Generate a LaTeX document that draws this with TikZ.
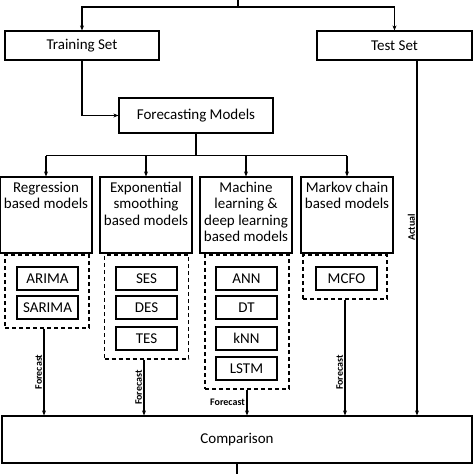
\documentclass[tikz,border=0pt]{standalone}
\usepackage{fontspec}
\setmainfont{Carlito}
\usetikzlibrary{arrows.meta}
\tikzset{>={Stealth[length=5pt,width=4pt]}}
\tikzset{
  box/.style={draw, font=\fontsize{15}{16.5}\selectfont},
  modelbox/.style={box, minimum width=91pt, minimum height=76pt, inner sep=2pt},
  group/.style={draw, dash pattern=on 4pt off 3pt, minimum width=84pt},
  method/.style={box, minimum width=61pt, minimum height=23pt, inner sep=1pt},
  flabel/.style={font=\bfseries\fontsize{10}{11}\selectfont, inner sep=1.5pt}
}
\newcommand{\mlabel}[1]{\parbox[t][66pt][t]{88pt}{\centering #1}}

\begin{document}
\begin{tikzpicture}[x=1pt,y=-1pt,line width=1.2pt]
\useasboundingbox (0,0) rectangle (474,474);
\node[box, minimum width=154pt, minimum height=29pt] (train) at (82,45.5) {Training Set};
\node[box, minimum width=155pt, minimum height=29pt] (test) at (394.5,45.5) {Test Set};
\node[box, minimum width=154pt, minimum height=35pt] (fcm) at (196,115.5) {Forecasting Models};
\foreach \n/\x/\t in {reg/46/{Regression\\based models}, exps/146/{Exponential\\smoothing\\based models}, ml/246/{Machine\\learning \&\\deep learning\\based models}, mc/347/{Markov chain\\based models}}
  \node[modelbox] (\n) at (\x,215) {\mlabel{\t}};
\foreach \n/\x/\y/\h in {regd/47/291.5/73, expd/146.5/307/104, mld/247/322/134, mcd/345/277/44}
  \node[group, minimum height=\h pt] (\n) at (\x,\y) {};
\foreach \n/\x/\y in {ARIMA/47.5/278.5, SARIMA/47.5/307.5, SES/146.5/278.5, DES/146.5/307.5, TES/146.5/338.5, ANN/246.5/278.5, DT/246.5/307.5, kNN/246.5/338.5, LSTM/246.5/368.5, MCFO/346.5/278.5}
  \node[method] (\n) at (\x,\y) {\n};
\node[box, minimum width=470pt, minimum height=47pt] (comp) at (237,439.5) {Comparison};

\coordinate (src) at (238,0);
\coordinate (split) at (238,7);
\draw (src) -- (split);
\draw[->] (split) -| (train.north);
\draw[->] (split) -| (test.north);
\draw[->] (train.south) |- (fcm.west);
\draw (fcm.south) -- ++(0,22) coordinate (bus);
\draw (bus -| reg.north) -- (bus -| mc.north);
\foreach \n in {reg,exps,ml,mc}
  \draw[->] (bus -| \n.north) -- (\n.north);

\draw[->] (regd.south) ++(-3,0) coordinate (f1) -- (f1 |- comp.north)
  node[midway, flabel, rotate=90, anchor=south] {Forecast};
\draw[->] (expd.south) ++(-2.5,0) coordinate (f2) -- (f2 |- comp.north)
  node[midway, flabel, rotate=90, anchor=south] {Forecast};
\draw[->] (mld.south) -- (mld.south |- comp.north)
  node[midway, flabel, left] {Forecast};
\draw[->] (mcd.south) -- (mcd.south |- comp.north)
  node[pos=0.63, flabel, rotate=90, anchor=south] {Forecast};
\draw[->] (test.south) ++(22.5,0) coordinate (act) -- (act |- comp.north)
  node[pos=0.47, flabel, rotate=90, anchor=south] {Actual};
\draw (comp.south) -- ++(0,11) coordinate (out);
\end{tikzpicture}
\end{document}
